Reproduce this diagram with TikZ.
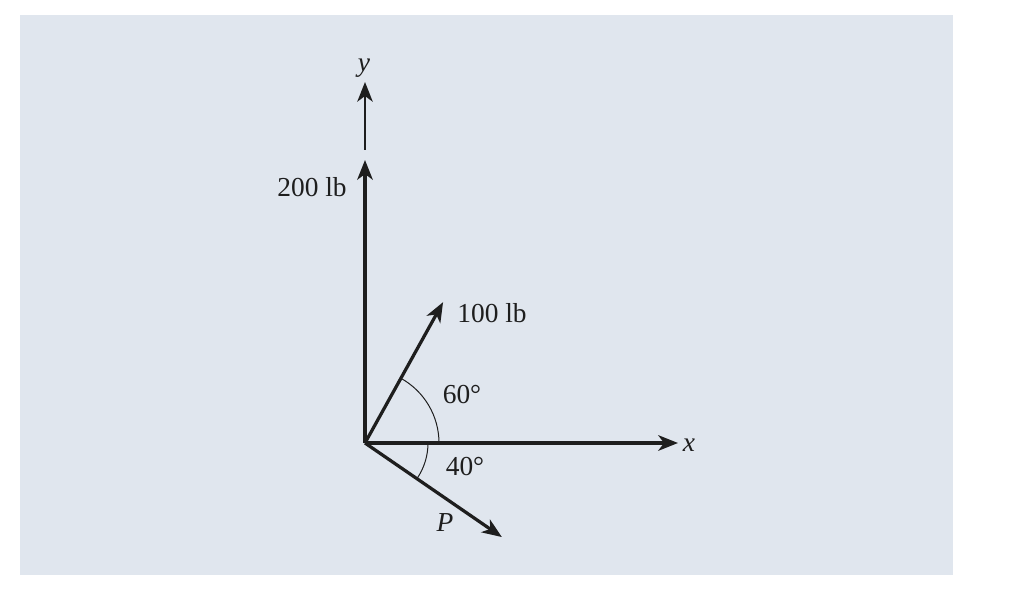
\documentclass[tikz,border=0pt]{standalone}
\usepackage{fontspec}
\setmainfont{Liberation Serif}
\usetikzlibrary{arrows.meta,calc}

\definecolor{panelbg}{RGB}{224,230,238}
\definecolor{ink}{RGB}{30,30,30}
\tikzset{
    force/.style={draw=ink, line width=2.3pt, -{Stealth[length=14pt,width=11pt,inset=4pt]}},
    axis/.style={draw=ink, line width=1.6pt, -{Stealth[length=14pt,width=11pt,inset=4pt]}},
    anglearc/.style={draw=ink, line width=0.7pt},
    lbl/.style={text=ink, font=\fontsize{19.5}{23}\selectfont, inner sep=0pt},
}

\begin{document}
\begin{tikzpicture}[x=0.025cm, y=0.025cm]
    \useasboundingbox (0,0) rectangle (1024,600);
    \fill[panelbg] (20,25) rectangle (953,585);

    \coordinate (O) at (365,157);
    \coordinate (xtip) at (678,157);
    \coordinate (wtip) at (365,440);
    \coordinate (ybase) at (365,450);
    \coordinate (ytip) at (365,518);
    \coordinate (ftip) at ($(O)+(61:161)$);
    \coordinate (ptip) at ($(O)+(-34.5:166)$);

    % axes
    \draw[force] (O) -- (xtip);
    \draw[axis] (ybase) -- (ytip);
    \node[lbl] (xlabel) at (689,155) {\textit{x}};
    \node[lbl] (ylabel) at (364,532) {\textit{y}};

    % forces
    \draw[force] (O) -- (wtip);
    \draw[force] (O) -- (ftip);
    \draw[force] (O) -- (ptip);
    \node[lbl] (weight) at (312,413) {200 lb};
    \node[lbl] (pull) at (492,287) {100 lb};
    \node[lbl] (plabel) at (445,77) {\textit{P}};

    % angles
    \draw[anglearc] ([shift={(0:74)}]O) arc[start angle=0, end angle=61, radius=74];
    \draw[anglearc] ([shift={(0:63)}]O) arc[start angle=0, end angle=-34.5, radius=63];
    \node[lbl] (upper) at (462,205) {60°};
    \node[lbl] (lower) at (465,133) {40°};
\end{tikzpicture}
\end{document}
